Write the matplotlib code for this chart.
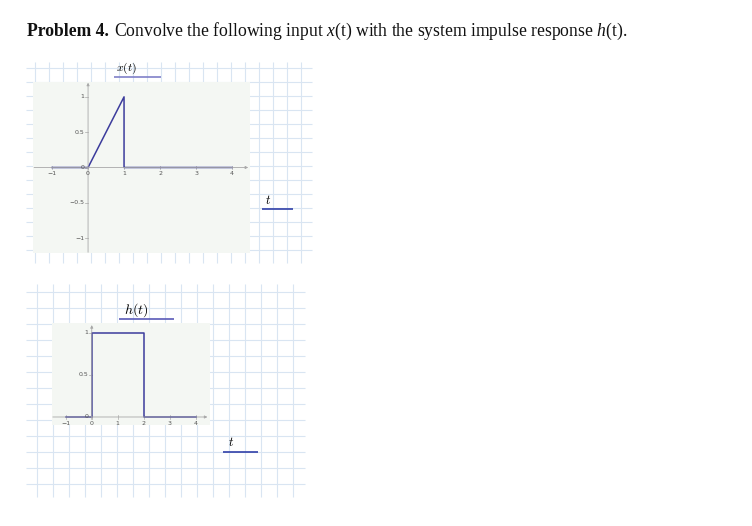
import numpy as np
import matplotlib
matplotlib.use("Agg")
import matplotlib.pyplot as plt

# data
x_t = [-1, 0, 1, 1, 4]
x_vals = [0, 0, 1, 0, 0]
h_t = [-1, 0, 0, 2, 2, 4]
h_vals = [0, 0, 1, 1, 0, 0]
top_xticks = [-1, 0, 1, 2, 3, 4]
top_yticks = [1, 0.5, 0, -0.5, -1]
bot_xticks = [-1, 0, 1, 2, 3, 4]
bot_yticks = [1, 0.5, 0]

W, H = 752, 526
LINE = '#3c3c9c'
AXC = '#a8a8a8'
GRID = '#d9e5f2'
PANEL = '#f4f7f3'

plt.rcParams['mathtext.fontset'] = 'custom'
plt.rcParams['mathtext.rm'] = 'Liberation Serif'
plt.rcParams['mathtext.it'] = 'Liberation Serif:italic'
plt.rcParams['mathtext.bf'] = 'Liberation Serif:bold'

fig = plt.figure(figsize=(W / 100, H / 100), dpi=100)
bg = fig.add_axes([0, 0, 1, 1])
bg.set_xlim(0, W)
bg.set_ylim(H, 0)
bg.axis('off')


def sheet(x0, x1, y0, y1, vx, hy, step):
    xs = np.arange(vx, x1, step)
    ys = np.arange(hy, y1, step)
    bg.vlines(xs, y0, y1, color=GRID, lw=0.8)
    bg.hlines(ys, x0, x1, color=GRID, lw=0.8)


sheet(26, 312, 62, 263, 35, 68, 14)
sheet(26, 305, 284, 497, 37, 292, 16)

bg.text(27, 36, "Problem 4.", family='Liberation Serif', fontweight='bold',
        fontsize=12.7, va='baseline', ha='left', color='#111')
bg.text(114, 36, r"Convolve the following input $\mathit{x}$(t) "
        r"with the system impulse response $\mathit{h}$(t).",
        family='Liberation Serif', fontsize=12.7, va='baseline', ha='left', color='#111')

# labels under the plots
bg.text(127, 68, r"$x(t)$", math_fontfamily='cm', fontsize=8.5, ha='center', va='center')
bg.hlines(77, 114, 161, color='#8080c8', lw=1.2)
bg.text(268, 200, r"$t$", math_fontfamily='cm', fontsize=9, ha='center', va='center')
bg.hlines(209, 262, 293, color='#3040a8', lw=1.2)
bg.text(136, 310, r"$h(t)$", math_fontfamily='cm', fontsize=10, ha='center', va='center')
bg.hlines(319, 119, 174, color='#5a5ab8', lw=1.2)
bg.text(231, 443, r"$t$", math_fontfamily='cm', fontsize=9, ha='center', va='center')
bg.hlines(452, 223, 258, color='#3040a8', lw=1.2)


def panel(px0, px1, py0, py1, xlim, ylim):
    ax = fig.add_axes([px0 / W, 1 - py1 / H, (px1 - px0) / W, (py1 - py0) / H])
    ax.set_facecolor(PANEL)
    ax.set_xlim(*xlim)
    ax.set_ylim(*ylim)
    for s in ax.spines.values():
        s.set_visible(False)
    ax.set_xticks([])
    ax.set_yticks([])
    return ax


def draw_axes(ax, xr, yr, xticks, yticks, dx, dy):
    ax.annotate('', xy=(xr[1], 0), xytext=(xr[0], 0),
                arrowprops=dict(arrowstyle='-|>', color=AXC, lw=0.6,
                                mutation_scale=4, shrinkA=0, shrinkB=0))
    ax.annotate('', xy=(0, yr[1]), xytext=(0, yr[0]),
                arrowprops=dict(arrowstyle='-|>', color=AXC, lw=0.6,
                                mutation_scale=4, shrinkA=0, shrinkB=0))
    for v in xticks:
        ax.plot([v, v], [-dy, dy], color=AXC, lw=0.5)
        lab = str(v).replace('-', '\u2212')
        ax.text(v, -2 * dy, lab, fontsize=4.5, color='#555', ha='center', va='top')
    for v in yticks:
        ax.plot([-dx, 0], [v, v], color=AXC, lw=0.5)
        lab = ('%g' % v).replace('-', '\u2212')
        ax.text(-1.3 * dx, v, lab, fontsize=4.5, color='#555', ha='right', va='center')


top = panel(33, 250, 82, 253, (-1.53, 4.5), (-1.21, 1.21))
draw_axes(top, (-1.5, 4.45), (-1.2, 1.2), top_xticks, top_yticks, 0.08, 0.025)
top.plot(x_t, x_vals, color=LINE, lw=1.1)

bot = panel(52, 210, 323, 425, (-1.53, 4.55), (-0.095, 1.115))
draw_axes(bot, (-1.5, 4.45), (-0.03, 1.09), bot_xticks, bot_yticks, 0.1, 0.025)
bot.plot(h_t, h_vals, color=LINE, lw=1.1)

fig.savefig('out.png', dpi=100)
